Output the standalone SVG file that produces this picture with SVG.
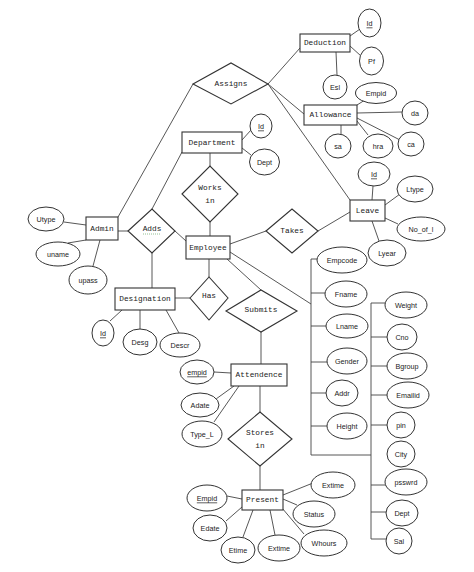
<svg xmlns="http://www.w3.org/2000/svg" width="474" height="572" viewBox="0 0 474 572">
<style>
.e rect,.e polygon{fill:#fff;stroke:#333;stroke-width:1.1}
.a ellipse{fill:#fff;stroke:#333;stroke-width:1}
.c line,.c polyline{stroke:#444;stroke-width:0.9;fill:none}
.t{font-family:"Liberation Mono",monospace;font-size:7.8px;fill:#222;text-anchor:middle;dominant-baseline:central}
.s{font-family:"Liberation Sans",Arial,sans-serif;font-size:7.2px;fill:#222;text-anchor:middle;dominant-baseline:central}
.u{text-decoration:underline}
</style>
<rect width="474" height="572" fill="#fff"/>
<g class="c" id="connectors">
<line x1="118" y1="217" x2="193" y2="84"/>
<line x1="268" y1="84" x2="300" y2="48"/>
<line x1="268" y1="84" x2="304" y2="114"/>
<line x1="268" y1="84" x2="350" y2="200"/>
<line x1="152" y1="209" x2="182" y2="152"/>
<line x1="118" y1="231" x2="128" y2="231"/>
<line x1="175" y1="231" x2="186" y2="241"/>
<line x1="152" y1="253" x2="152" y2="288"/>
<line x1="210" y1="153" x2="210" y2="166"/>
<line x1="210" y1="222" x2="210" y2="236"/>
<line x1="230" y1="244" x2="266" y2="231"/>
<line x1="318" y1="231" x2="350" y2="212"/>
<line x1="209" y1="259" x2="209" y2="277"/>
<line x1="175" y1="298" x2="190" y2="298"/>
<line x1="227" y1="259" x2="261" y2="290"/>
<line x1="230" y1="252" x2="311" y2="304"/>
<line x1="261" y1="332" x2="261" y2="364"/>
<line x1="260" y1="386" x2="260" y2="412"/>
<line x1="260" y1="466" x2="260" y2="490"/>
<polyline points="317,259 311,259 311,455 371,455"/>
<line x1="371" y1="303" x2="371" y2="539"/>
<line x1="311" y1="293" x2="325" y2="293"/>
<line x1="311" y1="326" x2="326" y2="326"/>
<line x1="311" y1="362" x2="327" y2="362"/>
<line x1="311" y1="393" x2="326" y2="393"/>
<line x1="311" y1="426" x2="327" y2="426"/>
<line x1="371" y1="303" x2="386" y2="303"/>
<line x1="371" y1="337" x2="387" y2="337"/>
<line x1="371" y1="366" x2="387" y2="366"/>
<line x1="371" y1="395" x2="387" y2="395"/>
<line x1="371" y1="425" x2="387" y2="425"/>
<line x1="371" y1="485" x2="386" y2="485"/>
<line x1="371" y1="512" x2="386" y2="512"/>
<line x1="371" y1="539" x2="386" y2="539"/>
<line x1="350" y1="36" x2="360" y2="29"/>
<line x1="350" y1="46" x2="361" y2="56"/>
<line x1="336" y1="52" x2="337" y2="75"/>
<line x1="357" y1="105" x2="365" y2="100"/>
<line x1="357" y1="113" x2="402" y2="112"/>
<line x1="357" y1="118" x2="400" y2="140"/>
<line x1="357" y1="121" x2="368" y2="135"/>
<line x1="341" y1="125" x2="341" y2="134"/>
<line x1="242" y1="140" x2="251" y2="130"/>
<line x1="242" y1="148" x2="251" y2="155"/>
<line x1="372" y1="200" x2="373" y2="186"/>
<line x1="385" y1="205" x2="400" y2="194"/>
<line x1="385" y1="218" x2="398" y2="224"/>
<line x1="372" y1="221" x2="379" y2="241"/>
<line x1="64" y1="222" x2="86" y2="225"/>
<line x1="68" y1="243" x2="86" y2="240"/>
<line x1="100" y1="240" x2="93" y2="266"/>
<line x1="122" y1="310" x2="110" y2="321"/>
<line x1="140" y1="310" x2="140" y2="329"/>
<line x1="166" y1="310" x2="179" y2="333"/>
<line x1="214" y1="372" x2="231" y2="373"/>
<line x1="234" y1="386" x2="216" y2="399"/>
<line x1="239" y1="386" x2="214" y2="422"/>
<line x1="242" y1="499" x2="227" y2="496"/>
<line x1="242" y1="507" x2="226" y2="521"/>
<line x1="253" y1="510" x2="243" y2="537"/>
<line x1="270" y1="510" x2="275" y2="535"/>
<line x1="282" y1="508" x2="304" y2="534"/>
<line x1="283" y1="499" x2="297" y2="505"/>
<line x1="283" y1="495" x2="313" y2="483"/>
</g>
<g class="e" id="deduction"><rect x="300" y="34" width="50" height="18"/><text class="t" x="325" y="43">Deduction</text></g>
<g class="e" id="allowance"><rect x="304" y="105" width="53" height="20"/><text class="t" x="330.5" y="115">Allowance</text></g>
<g class="e" id="department"><rect x="182" y="132" width="60" height="21"/><text class="t" x="212" y="142.5">Department</text></g>
<g class="e" id="leave"><rect x="350" y="200" width="35" height="21"/><text class="t" x="367.5" y="210.5">Leave</text></g>
<g class="e" id="admin"><rect x="86" y="217" width="32" height="23"/><text class="t" x="102" y="228.5">Admin</text></g>
<g class="e" id="employee"><rect x="186" y="236" width="44" height="23"/><text class="t" x="208" y="247.5">Employee</text></g>
<g class="e" id="designation"><rect x="115" y="288" width="60" height="22"/><text class="t" x="145" y="299">Designation</text></g>
<g class="e" id="attendence"><rect x="231" y="364" width="56" height="22"/><text class="t" x="259" y="375">Attendence</text></g>
<g class="e" id="present"><rect x="242" y="490" width="41" height="20"/><text class="t" x="262.5" y="500">Present</text></g>
<g class="e" id="assigns"><polygon points="193,84 231,63 268,84 231,104"/><text class="t" x="231" y="84">Assigns</text></g>
<g class="e" id="works-in"><polygon points="182,194 210,166 238,194 210,222"/><text class="t" x="210" y="188">Works</text><text class="t" x="210" y="201">in</text></g>
<g class="e" id="takes"><polygon points="266,231 292,209 318,231 292,253"/><text class="t" x="292" y="231">Takes</text></g>
<g class="e" id="adds"><polygon points="128,231 152,209 175,231 152,253"/><text class="t" x="152" y="229">Adds</text><line x1="143" y1="234" x2="161" y2="234" stroke="#7ab07a" stroke-width="0.8" stroke-dasharray="1,1"/></g>
<g class="e" id="has"><polygon points="190,298 209,277 228,298 209,320"/><text class="t" x="209" y="296">Has</text></g>
<g class="e" id="submits"><polygon points="226,311 261,290 297,311 261,332"/><text class="t" x="261" y="310">Submits</text></g>
<g class="e" id="stores-in"><polygon points="228,439 260,412 292,439 260,466"/><text class="t" x="260" y="433">Stores</text><text class="t" x="260" y="446">in</text></g>
<g class="a" id="ded-id"><ellipse cx="369.5" cy="23" rx="11.5" ry="14"/><text class="s u" x="369.5" y="23">Id</text></g>
<g class="a" id="ded-pf"><ellipse cx="371.5" cy="61" rx="12" ry="14"/><text class="s" x="371.5" y="61">Pf</text></g>
<g class="a" id="ded-esl"><ellipse cx="335" cy="87" rx="12" ry="12"/><text class="s" x="335" y="87">Esl</text></g>
<g class="a" id="all-empid"><ellipse cx="376" cy="93" rx="20.5" ry="10.5"/><text class="s" x="376" y="93">Empid</text></g>
<g class="a" id="all-da"><ellipse cx="415" cy="113" rx="13" ry="12"/><text class="s" x="415" y="113">da</text></g>
<g class="a" id="all-sa"><ellipse cx="338" cy="146" rx="13" ry="12"/><text class="s" x="338" y="146">sa</text></g>
<g class="a" id="all-hra"><ellipse cx="378" cy="146" rx="15" ry="12"/><text class="s" x="378" y="146">hra</text></g>
<g class="a" id="all-ca"><ellipse cx="411" cy="144" rx="13" ry="12"/><text class="s" x="411" y="144">ca</text></g>
<g class="a" id="dep-id"><ellipse cx="261" cy="126" rx="11" ry="12"/><text class="s u" x="261" y="126">Id</text></g>
<g class="a" id="dep-dept"><ellipse cx="264.5" cy="162" rx="15" ry="13"/><text class="s" x="264.5" y="162">Dept</text></g>
<g class="a" id="lea-id"><ellipse cx="374" cy="174" rx="16" ry="12"/><text class="s u" x="374" y="174">Id</text></g>
<g class="a" id="lea-ltype"><ellipse cx="415" cy="189" rx="18" ry="13"/><text class="s" x="415" y="189">Ltype</text></g>
<g class="a" id="lea-noofl"><ellipse cx="421" cy="229" rx="24" ry="12"/><text class="s" x="421" y="229">No_of_l</text></g>
<g class="a" id="lea-lyear"><ellipse cx="387" cy="253" rx="19" ry="13"/><text class="s" x="387" y="253">Lyear</text></g>
<g class="a" id="adm-utype"><ellipse cx="46" cy="219" rx="18" ry="12"/><text class="s" x="46" y="219">Utype</text></g>
<g class="a" id="adm-uname"><ellipse cx="58" cy="254" rx="22" ry="12"/><text class="s" x="58" y="254">uname</text></g>
<g class="a" id="adm-upass"><ellipse cx="88" cy="280" rx="19" ry="14"/><text class="s" x="88" y="280">upass</text></g>
<g class="a" id="des-id"><ellipse cx="103" cy="333" rx="11" ry="13"/><text class="s u" x="103" y="333">Id</text></g>
<g class="a" id="des-desg"><ellipse cx="140" cy="342" rx="17" ry="13"/><text class="s" x="140" y="342">Desg</text></g>
<g class="a" id="des-descr"><ellipse cx="180" cy="345" rx="20" ry="12"/><text class="s" x="180" y="345">Descr</text></g>
<g class="a" id="att-empid"><ellipse cx="197" cy="372" rx="17" ry="12"/><text class="s u" x="197" y="372">empid</text></g>
<g class="a" id="att-adate"><ellipse cx="200" cy="405" rx="19" ry="12"/><text class="s" x="200" y="405">Adate</text></g>
<g class="a" id="att-typel"><ellipse cx="202" cy="434" rx="20" ry="13"/><text class="s" x="202" y="434">Type_L</text></g>
<g class="a" id="pre-empid"><ellipse cx="207" cy="498" rx="20" ry="13"/><text class="s u" x="207" y="498">Empid</text></g>
<g class="a" id="pre-edate"><ellipse cx="210" cy="528" rx="17" ry="13"/><text class="s" x="210" y="528">Edate</text></g>
<g class="a" id="pre-etime"><ellipse cx="238" cy="550" rx="17" ry="13"/><text class="s" x="238" y="550">Etime</text></g>
<g class="a" id="pre-extime2"><ellipse cx="279" cy="548" rx="21" ry="13"/><text class="s" x="279" y="548">Extime</text></g>
<g class="a" id="pre-whours"><ellipse cx="324" cy="543" rx="23" ry="13"/><text class="s" x="324" y="543">Whours</text></g>
<g class="a" id="pre-status"><ellipse cx="314" cy="514" rx="21" ry="13"/><text class="s" x="314" y="514">Status</text></g>
<g class="a" id="pre-extime"><ellipse cx="333" cy="485" rx="22" ry="13"/><text class="s" x="333" y="485">Extime</text></g>
<g class="a" id="emp-empcode"><ellipse cx="342" cy="260" rx="25" ry="13"/><text class="s" x="342" y="260">Empcode</text></g>
<g class="a" id="emp-fname"><ellipse cx="346" cy="294" rx="21" ry="13"/><text class="s" x="346" y="294">Fname</text></g>
<g class="a" id="emp-lname"><ellipse cx="347" cy="326" rx="21" ry="12"/><text class="s" x="347" y="326">Lname</text></g>
<g class="a" id="emp-gender"><ellipse cx="347" cy="361" rx="20" ry="13"/><text class="s" x="347" y="361">Gender</text></g>
<g class="a" id="emp-addr"><ellipse cx="342" cy="393" rx="16" ry="13"/><text class="s" x="342" y="393">Addr</text></g>
<g class="a" id="emp-height"><ellipse cx="347" cy="426" rx="20" ry="13"/><text class="s" x="347" y="426">Height</text></g>
<g class="a" id="emp-weight"><ellipse cx="406" cy="305" rx="21" ry="13"/><text class="s" x="406" y="305">Weight</text></g>
<g class="a" id="emp-cno"><ellipse cx="402" cy="337" rx="15" ry="13"/><text class="s" x="402" y="337">Cno</text></g>
<g class="a" id="emp-bgroup"><ellipse cx="407" cy="366" rx="20" ry="13"/><text class="s" x="407" y="366">Bgroup</text></g>
<g class="a" id="emp-emailid"><ellipse cx="408" cy="395" rx="21" ry="13"/><text class="s" x="408" y="395">Emailid</text></g>
<g class="a" id="emp-pin"><ellipse cx="401" cy="425" rx="14" ry="13"/><text class="s" x="401" y="425">pin</text></g>
<g class="a" id="emp-city"><ellipse cx="401" cy="454" rx="14" ry="13"/><text class="s" x="401" y="454">City</text></g>
<g class="a" id="emp-psswrd"><ellipse cx="406" cy="482" rx="21" ry="13"/><text class="s" x="406" y="482">psswrd</text></g>
<g class="a" id="emp-dept"><ellipse cx="402" cy="513" rx="16" ry="13"/><text class="s" x="402" y="513">Dept</text></g>
<g class="a" id="emp-sal"><ellipse cx="399" cy="541" rx="13" ry="13"/><text class="s" x="399" y="541">Sal</text></g>
</svg>
